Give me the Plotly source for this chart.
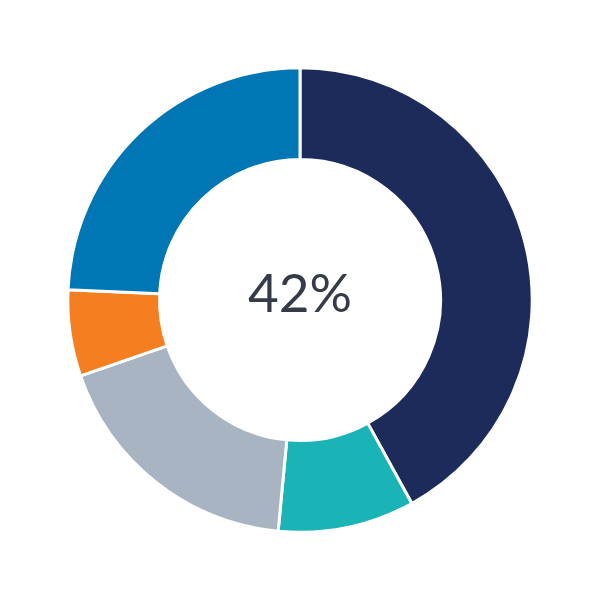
import plotly.graph_objects as go

# Share of each segment, clockwise from 12 o'clock
labels = ["Segment A", "Segment B", "Segment C", "Segment D", "Segment E"]
values = [42, 9.5, 18.2, 6, 24.3]
colors = ["#1C2B5A", "#1BB4B6", "#A9B4C2", "#F47E20", "#0176B5"]
center_text = "42%"

# the page body adds an 8px margin, so nudge the ring up/left to sit centred
off = 8 / 600

fig = go.Figure(go.Pie(
    labels=labels,
    values=values,
    hole=0.605,
    sort=False,
    direction="clockwise",
    rotation=0,
    marker=dict(colors=colors, line=dict(color="white", width=3)),
    textinfo="none",
    hoverinfo="label+percent",
    domain=dict(x=[0.113 - off, 0.887 - off], y=[0.113 + off, 0.887 + off]),
))

fig.add_annotation(
    text=center_text, x=0.5 - off, y=0.5 + off + 9 / 600, xref="paper", yref="paper",
    showarrow=False,
    font=dict(family="Lato", size=53, color="#363C47"),
)

fig.update_layout(
    width=600, height=600,
    margin=dict(l=0, r=0, t=0, b=0),
    showlegend=False,
    paper_bgcolor="white",
)

fig.write_html("out.html")
